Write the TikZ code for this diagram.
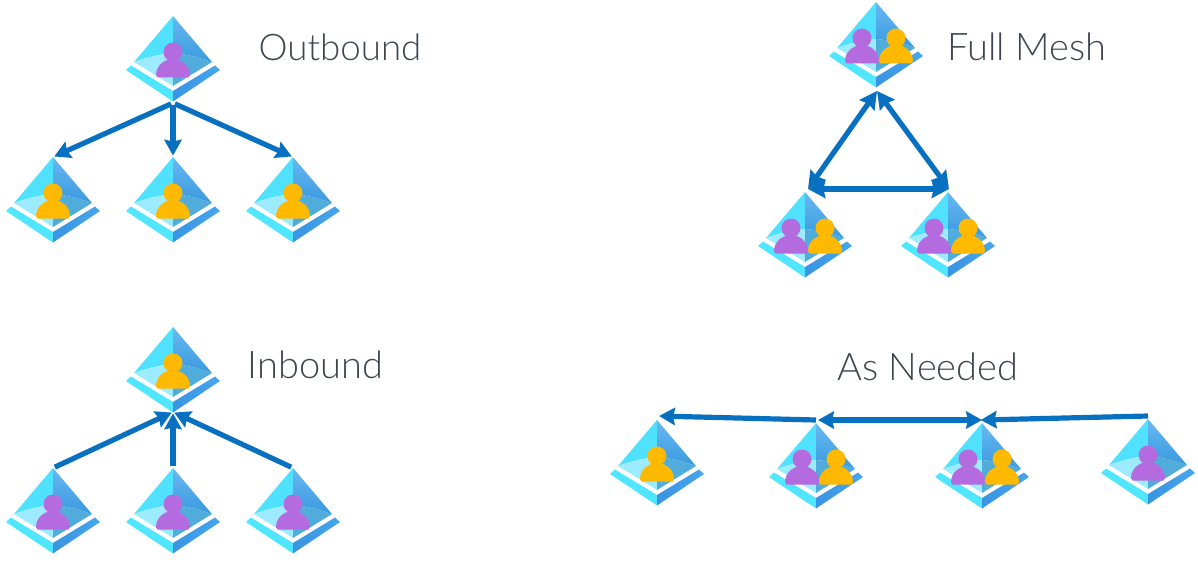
\documentclass[tikz,border=0pt]{standalone}
\usepackage{fontspec}
\setmainfont{Lato Light}
\usetikzlibrary{arrows.meta,calc}
\definecolor{faceA}{HTML}{50E1FF}
\definecolor{faceB}{HTML}{9DEBFF}
\definecolor{faceC}{HTML}{68B8F2}
\definecolor{faceC2}{HTML}{3A9ADF}
\definecolor{faceD}{HTML}{50ADDB}
\definecolor{bandL}{HTML}{50E6FF}
\definecolor{bandR}{HTML}{46A6EC}
\definecolor{bandR2}{HTML}{3A94E2}
\definecolor{arrowblue}{HTML}{0870C0}
\definecolor{purpleP}{HTML}{B46BE0}
\definecolor{yellowP}{HTML}{FFB900}
\definecolor{inkT}{HTML}{3F4650}
\tikzset{
  x=0.75pt,y=-0.75pt,
  conn/.style={draw=arrowblue,line width=3.9pt,-{Stealth[length=12pt,width=13pt,inset=1.5pt]},shorten >=1pt,shorten <=1.5pt},
  both/.style={conn,{Stealth[length=13pt,width=13.5pt,inset=1.5pt]}-{Stealth[length=13pt,width=13.5pt,inset=1.5pt]}},
  title/.style={font=\fontsize{27.5pt}{30pt}\selectfont,text=inkT,inner sep=0pt,anchor=mid},
  titlewide/.style={title,font=\fontsize{28.5pt}{30pt}\selectfont}
}
\newcommand{\personshape}[2]{%
  \fill[#2] ($(#1,36)$) circle (9.5);
  \fill[#2] ($(#1,0)+(-17,59)$) .. controls ($(#1,0)+(-17,50)$) and ($(#1,0)+(-9,43)$) .. ($(#1,0)+(0,43)$)
     .. controls ($(#1,0)+(9,43)$) and ($(#1,0)+(17,50)$) .. ($(#1,0)+(17,59)$)
     -- ($(#1,0)+(15.5,61.5)$) -- ($(#1,0)+(-15.5,61.5)$) -- cycle;
}
\newcommand{\azicon}[4]{%
  \begin{scope}[shift={(#2,#3)}]
    \coordinate (#1-apex) at (0,0);
    \coordinate (#1-bottom) at (0,85);
    \fill[faceA] (0,0) -- (-39,46) .. controls (-25,41) and (-12,38) .. (0,37) -- cycle;
    \shade[top color=faceC,bottom color=faceC2] (0,0) -- (39,46) .. controls (25,41) and (12,38) .. (0,37) -- cycle;
    \fill[faceB] (-39,46) .. controls (-25,41) and (-12,38) .. (0,37) -- (0,70) -- cycle;
    \fill[faceD] (39,46) .. controls (25,41) and (12,38) .. (0,37) -- (0,70) -- cycle;
    \fill[bandL] (-47,54) -- (-42,49.5) -- (0,75) -- (0,85.5) -- cycle;
    \shade[left color=bandR2,right color=bandR] (47,54) -- (42,49.5) -- (0,75) -- (0,85.5) -- cycle;
    #4
  \end{scope}
}
\newcommand{\solo}[1]{\personshape{0}{#1}}
\newcommand{\duo}{\personshape{-14}{purpleP}\personshape{20}{yellowP}}
\begin{document}
\begin{tikzpicture}
\useasboundingbox (0,0) rectangle (1198,567);
% Outbound
\azicon{oT}{173}{16}{\solo{purpleP}}
\azicon{oA}{53}{157}{\solo{yellowP}}
\azicon{oB}{173}{157}{\solo{yellowP}}
\azicon{oC}{293}{157}{\solo{yellowP}}
\node[title] (tOut) at (340,57) {Outbound};
\coordinate (oTh) at ($(oT-bottom)+(0,2)$);
\draw[conn] (oTh) -- (oA-apex);
\draw[conn] (oTh) -- (oB-apex);
\draw[conn] (oTh) -- (oC-apex);
% Inbound
\azicon{iT}{173}{327}{\solo{yellowP}}
\azicon{iA}{53}{468}{\solo{purpleP}}
\azicon{iB}{173}{468}{\solo{purpleP}}
\azicon{iC}{293}{468}{\solo{purpleP}}
\node[titlewide] (tIn) at (315.5,375) {Inbound};
\draw[conn] (iA-apex) -- (iT-bottom);
\draw[conn] (iB-apex) -- (iT-bottom);
\draw[conn] (iC-apex) -- (iT-bottom);
% Full mesh
\azicon{fT}{876}{2}{\duo}
\azicon{fA}{805}{192}{\duo}
\azicon{fB}{948}{192}{\duo}
\node[titlewide] (tFull) at (1027,57) {Full Mesh};
\coordinate (fTh) at ($(fT-bottom)+(1,4)$);
\coordinate (fAh) at ($(fA-apex)+(3,-3)$);
\coordinate (fBh) at ($(fB-apex)+(1,-3)$);
\draw[both,shorten <=0pt,shorten >=0pt] (fTh) -- (fAh);
\draw[both,shorten <=0pt,shorten >=0pt] (fTh) -- (fBh);
\draw[both,shorten <=0pt,shorten >=0pt] (fAh) -- (fBh);
% As needed
\azicon{nA}{657}{420}{\solo{yellowP}}
\azicon{nB}{816}{423}{\duo}
\azicon{nC}{982}{423}{\duo}
\azicon{nD}{1148}{419}{\solo{purpleP}}
\node[titlewide] (tNeed) at (928,377.5) {As Needed};
\coordinate (nAh) at ($(nA-apex)+(2,-4)$);
\coordinate (nBh) at ($(nB-apex)+(0,-3)$);
\coordinate (nCh) at ($(nC-apex)+(0,-3)$);
\coordinate (nDh) at ($(nD-apex)+(0,-3)$);
\draw[conn,shorten <=0pt,shorten >=0pt] (nBh) -- (nAh);
\draw[conn,{Stealth[length=12pt,width=13pt,inset=1.5pt]}-{Stealth[length=12pt,width=13pt,inset=1.5pt]},shorten <=1.5pt,shorten >=0pt] (nBh) -- (nCh);
\draw[conn,shorten >=-1pt,shorten <=0pt] (nDh) -- (nCh);
\end{tikzpicture}
\end{document}
